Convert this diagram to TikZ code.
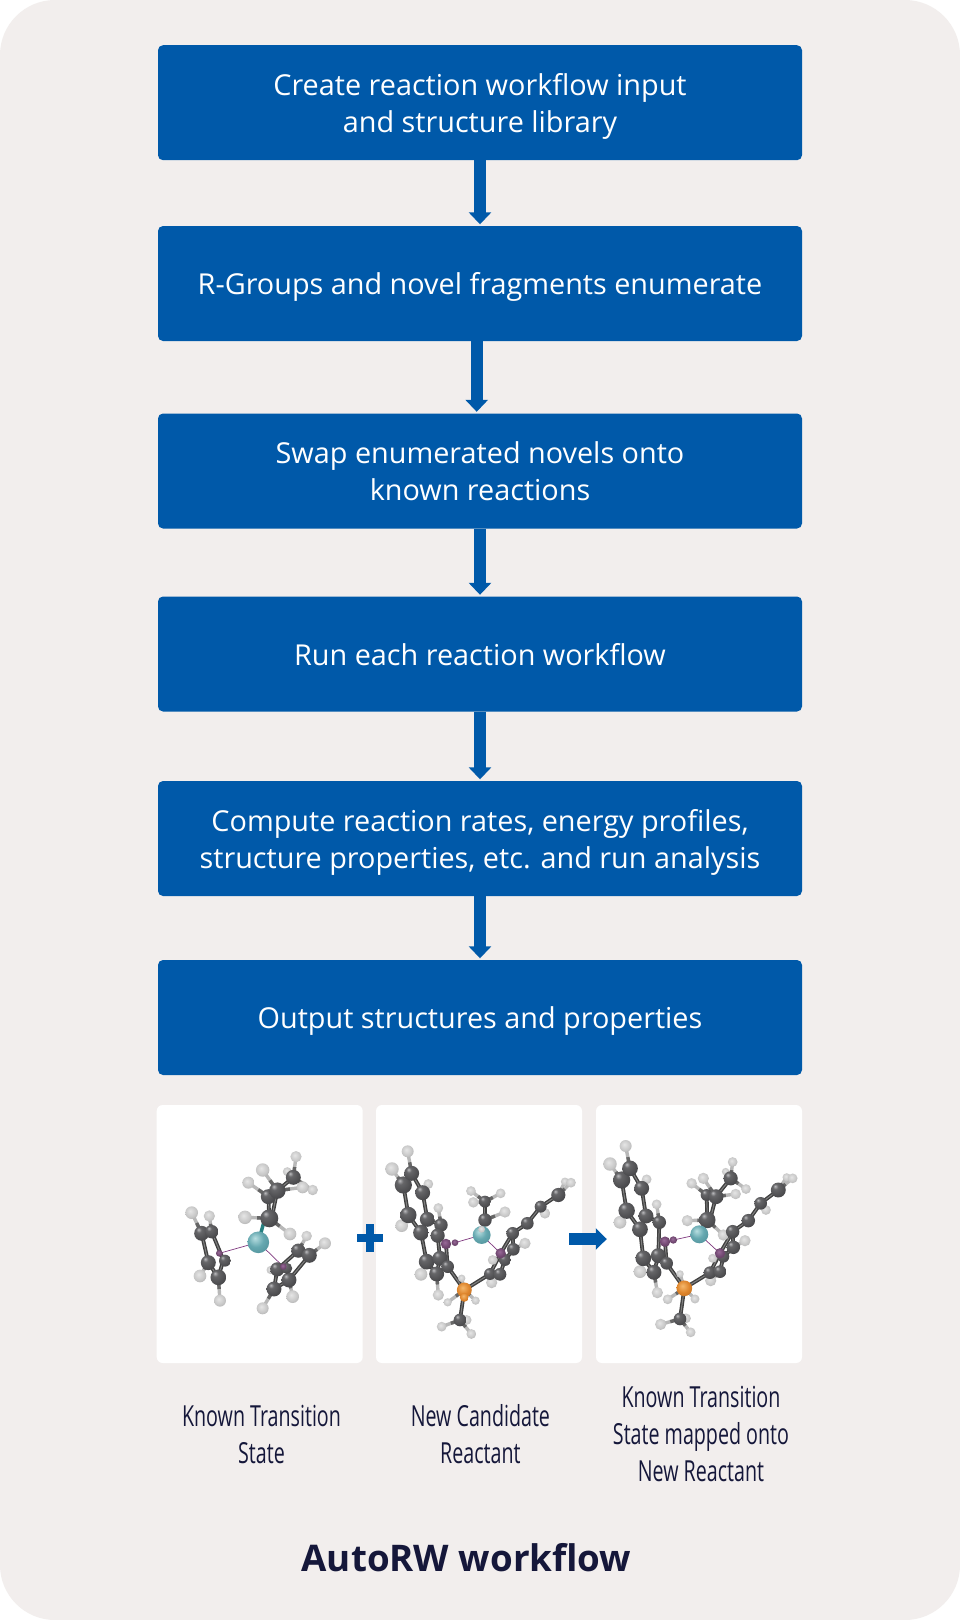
\documentclass[tikz,border=0pt]{standalone}
\usepackage{fontspec}
\setmainfont{Open Sans}
\newfontfamily\capfont[FakeStretch=0.678]{Open Sans}
\usetikzlibrary{arrows.meta,calc}
\definecolor{panel}{HTML}{F2EEED}
\definecolor{corp}{HTML}{0059A9}
\definecolor{ink}{HTML}{15173A}
\pgfdeclareradialshading{atomC}{\pgfqpoint{-11bp}{13bp}}{rgb(0bp)=(0.74,0.74,0.75); rgb(9bp)=(0.40,0.40,0.41); rgb(30bp)=(0.29,0.29,0.30); rgb(50bp)=(0.19,0.19,0.20); rgb(70bp)=(0.19,0.19,0.20)}
\pgfdeclareradialshading{atomH}{\pgfqpoint{-6bp}{7bp}}{rgb(0bp)=(0.90,0.90,0.90); rgb(22bp)=(0.78,0.78,0.78); rgb(50bp)=(0.52,0.52,0.52); rgb(70bp)=(0.52,0.52,0.52)}
\pgfdeclareradialshading{atomT}{\pgfqpoint{-8bp}{10bp}}{rgb(0bp)=(0.72,0.87,0.88); rgb(18bp)=(0.40,0.66,0.69); rgb(50bp)=(0.25,0.50,0.54); rgb(70bp)=(0.25,0.50,0.54)}
\pgfdeclareradialshading{atomP}{\pgfqpoint{-6bp}{8bp}}{rgb(0bp)=(0.96,0.72,0.42); rgb(20bp)=(0.87,0.52,0.17); rgb(50bp)=(0.64,0.37,0.12); rgb(70bp)=(0.64,0.37,0.12)}
\pgfdeclareradialshading{atomM}{\pgfqpoint{-6bp}{8bp}}{rgb(0bp)=(0.60,0.42,0.60); rgb(20bp)=(0.44,0.28,0.44); rgb(50bp)=(0.32,0.22,0.32); rgb(70bp)=(0.32,0.22,0.32)}
\newcommand{\atoms}[2]{\foreach \ax/\ay/\ar in {#2}{\shade[shading=#1] (\ax,\ay) circle ({\ar*1.12});}}
\newcommand{\cbonds}[1]{\foreach \ax/\ay/\bx/\by in {#1}{\draw[line width=3.8pt,color=black!75] (\ax,\ay) -- (\bx,\by); \draw[line width=1pt,color=black!50] (\ax,\ay) -- (\bx,\by);}}
\newcommand{\hbonds}[1]{\foreach \ax/\ay/\bx/\by in {#1}{\draw[line width=3.4pt,color=black!28] (\ax,\ay) -- (\bx,\by); \draw[line width=3.4pt,color=black!60] (\ax,\ay) -- ($(\ax,\ay)!0.5!(\bx,\by)$);}}
\newcommand{\mbonds}[1]{\foreach \ax/\ay/\bx/\by in {#1}{\draw[line width=0.7pt,color=violet!55!gray] (\ax,\ay) -- (\bx,\by);}}
\newcommand{\lineA}{\rule[-7pt]{0pt}{36pt}}
\tikzset{
  stepbox/.style={rectangle,rounded corners=5pt,fill=corp,text=white,minimum width=644pt,minimum height=115pt,inner sep=0pt,align=center,font=\fontsize{28.8}{37}\selectfont},
  flow/.style={draw=corp,line width=12pt,-{Triangle[length=12pt,width=22pt]},shorten >=1.5pt},
  card/.style={rectangle,rounded corners=6pt,fill=white,minimum width=206pt,minimum height=258pt,inner sep=0pt},
  capt/.style={text=ink,align=center,inner sep=0pt,font=\capfont\fontsize{29}{37}\selectfont},
  mol/.style={x=0.3333pt,y=-0.3333pt}
}
\begin{document}
\begin{tikzpicture}[x=1pt,y=-1pt]
\useasboundingbox (0,0) rectangle (960,1620);
\fill[white] (0,0) rectangle (960,1620);
\fill[panel,rounded corners=55pt] (0,0) rectangle (960,1620);

\node[stepbox] (b1) at (480,102.7) {\lineA Create reaction workflow input\\and structure library\lineA};
\node[stepbox] (b2) at (480,283.5) {\lineA R-Groups and novel fragments enumerate};
\node[stepbox] (b3) at (480,471) {\lineA Swap enumerated novels onto\\known reactions\lineA};
\node[stepbox] (b4) at (480,654) {\lineA Run each reaction workflow};
\node[stepbox] (b5) at (480,838.5) {\lineA Compute reaction rates, energy profiles,\\structure properties, etc. and run analysis\lineA};
\node[stepbox] (b6) at (480,1017.5) {\lineA Output structures and properties};

\draw[flow] (b1.south) -- (b2.north);
\draw[flow] ([xshift=-3.3pt]b2.south) -- ([xshift=-3.3pt]b3.north);
\draw[flow] (b3.south) -- (b4.north);
\draw[flow] (b4.south) -- (b5.north);
\draw[flow] (b5.south) -- (b6.north);

\node[card] (c1) at (259.7,1234) {};
\node[card] (c2) at (479,1234) {};
\node[card] (c3) at (699,1234) {};

\fill[corp] (357,1234) rectangle (383,1242);
\fill[corp] (366,1224) rectangle (374,1252);
\draw[flow,line width=12pt,-{Triangle[length=11pt,width=21pt]},shorten >=0pt] ([xshift=-13pt,yshift=-5pt]c2.east) -- ([xshift=11pt,yshift=-5pt]c3.west);

% molecule 1
\begin{scope}[shift={(140,1090)},mol]
\mbonds{355/457/238/490,355/457/430/530}
\hbonds{185/430/155/368,215/425/208/378,205/518/180/558,235/562/240/632,475/482/500/438,508/496/555/460,447/570/458/620,402/597/368/655,388/385/315/382,388/385/450/432,385/320/325/278,412/302/368/240,412/302/488/292,460/262/468/200,460/262/442/245,460/262/518/300}
\cbonds{185/430/205/518,215/425/250/510,205/518/235/562,250/510/235/562,185/430/215/425,475/482/508/496,475/482/412/538,508/496/447/570,412/538/402/597,447/570/402/597,388/385/385/320,395/385/412/302,385/320/412/302,412/302/460/262}
\draw[line width=3.5pt,color=teal!70!gray] (355,457) -- (372,395);
\atoms{atomH}{155/368/17,208/378/15,180/558/17,240/632/16,500/438/14,555/460/16,392/540/11,458/620/17,368/655/16,315/382/18,450/432/17,325/278/16,368/240/18,468/200/15,442/245/12,518/300/14,488/292/16}
\atoms{atomC}{185/430/20,215/425/18,205/518/20,255/512/16,235/562/21,475/482/19,508/496/20,412/538/19,447/570/20,402/597/20,440/535/15,388/385/24,385/320/20,412/302/22,460/262/20}
\atoms{atomM}{238/490/9,430/530/9}
\atoms{atomT}{355/457/29}
\end{scope}

% molecule 2
\begin{scope}[shift={(370,1090)},mol]
\mbonds{335/435/255/458,335/435/392/490}
\hbonds{125/250/113/184,100/285/66/237,158/308/175/282,213/405/205/354,115/375/95/407,170/515/153/553,200/552/205/615,345/335/303/303,345/335/310/337,345/335/392/310,345/390/405/366,345/390/335/418,565/315/585/275,565/315/603/278,512/350/525/370,430/478/465/460,405/510/368/510,390/553/365/578,283/600/275/565,283/600/233/637,283/600/317/632,270/690/215/710,270/690/290/690,270/690/304/732}
\cbonds{100/285/125/250,125/250/158/308,100/285/115/375,158/308/172/388,115/375/153/428,172/388/153/428,172/388/213/405,153/428/170/515,213/405/203/437,203/437/210/505,170/515/200/552,210/505/200/552,210/505/233/530,228/462/233/530,233/530/283/600,283/600/360/552,283/600/270/690,345/335/345/390,565/315/512/350,512/350/472/400,472/400/428/430,428/430/430/478,430/478/405/510,405/510/390/553,390/553/360/552,360/552/392/490,392/490/428/430}
\atoms{atomH}{113/184/16,66/237/18,175/282/13,205/354/13,95/407/17,153/553/17,205/615/15,303/303/13,310/337/14,392/310/13,405/366/15,585/275/11,603/278/13,525/370/14,465/460/15,368/510/13,365/578/15,275/565/10,233/637/11,317/632/11,215/710/13,290/690/13,304/732/13}
\atoms{atomC}{100/285/23,125/250/20,158/308/20,115/375/22,172/388/20,153/428/21,213/405/18,203/437/19,170/515/21,210/505/20,200/552/20,233/530/17,345/335/16,345/390/18,565/315/19,512/350/16,472/400/17,428/430/17,430/478/17,405/510/16,360/552/16,390/553/17,270/690/17}
\atoms{atomM}{228/462/14,255/458/9,392/490/14}
\atoms{atomT}{335/435/24}
\atoms{atomH}{335/418/9}
\atoms{atomP}{283/600/20,283/622/12}
\end{scope}

% molecule 3
\begin{scope}[shift={(590,1090)},mol]
\mbonds{328/433/250/450,328/433/390/490}
\hbonds{120/235/107/168,95/270/60/222,155/295/170/268,208/397/200/343,110/362/90/397,160/505/150/545,192/547/202/608,352/390/292/392,352/390/400/435,350/315/305/280,378/320/340/265,422/265/428/216,422/265/407/245,422/265/468/297,378/320/437/312,565/300/590/262,565/300/608/265,512/340/528/360,430/472/465/452,400/500/368/505,390/545/362/572,283/595/270/552,283/595/233/628,283/595/315/627,270/687/212/703,270/687/288/685,270/687/302/727}
\cbonds{95/270/120/235,120/235/155/295,95/270/110/362,155/295/168/378,110/362/150/418,168/378/150/418,168/378/208/397,150/418/160/505,208/397/205/497,160/505/192/547,205/497/192/547,205/497/230/520,225/455/230/520,230/520/283/595,283/595/360/548,283/595/270/687,352/390/350/315,360/390/378/320,350/315/378/320,378/320/422/265,565/300/512/340,512/340/475/392,475/392/428/425,428/425/430/472,430/472/400/500,400/500/390/545,390/545/360/548,360/548/390/490,390/490/428/425}
\atoms{atomH}{107/168/16,60/222/18,170/268/13,200/343/13,90/397/17,150/545/17,202/608/15,292/392/15,400/435/15,305/280/14,340/265/15,428/216/13,407/245/10,437/312/14,468/297/13,590/262/11,608/265/13,528/360/13,465/452/15,368/505/12,362/572/15,270/552/10,233/628/13,315/627/12,212/703/15,288/685/13,302/727/13}
\atoms{atomC}{95/270/23,120/235/21,155/295/20,110/362/22,168/378/20,150/418/21,208/397/18,160/505/21,205/497/20,192/547/20,230/520/17,352/390/22,350/315/16,378/320/20,422/265/19,565/300/20,512/340/17,475/392/18,428/425/18,430/472/18,400/500/16,360/548/17,390/545/17,270/687/17}
\atoms{atomM}{225/455/14,250/450/10,390/490/14}
\atoms{atomT}{328/433/24}
\atoms{atomP}{283/595/21}
\end{scope}

\node[capt] (t1) at (261.5,1434) {\lineA Known Transition\\State\lineA};
\node[capt] (t2) at (480.4,1434) {\lineA New Candidate\\Reactant\lineA};
\node[capt] (t3) at (701,1433) {\lineA Known Transition\\State mapped onto\\New Reactant\lineA};
\node[text=ink,inner sep=0pt,font=\fontsize{36.7}{40}\selectfont\bfseries] (title) at (466.5,1558) {AutoRW workflow};
\end{tikzpicture}
\end{document}
